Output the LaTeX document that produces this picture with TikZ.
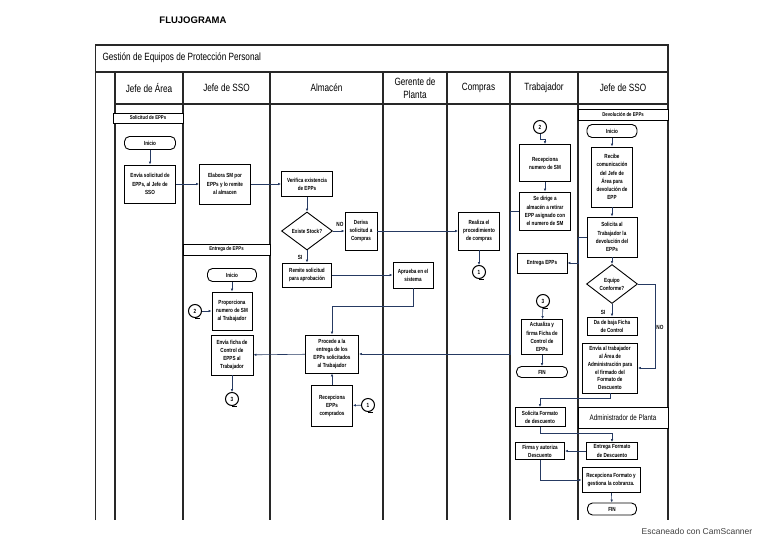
\documentclass[tikz,border=0pt]{standalone}
\usepackage{fontspec}
\setmainfont{Liberation Sans}
\newfontfamily\narrowfont[FakeStretch=0.78]{Liberation Sans}
\usetikzlibrary{shapes.geometric,arrows.meta}
\definecolor{flowColor}{RGB}{38,58,98}
\definecolor{laneColor}{RGB}{40,40,40}
\begin{document}
\begin{tikzpicture}[x=1pt,y=-1pt,
  box/.style={draw=black,line width=0.9pt,fill=white,align=center,inner sep=0.3pt,
    font=\narrowfont\bfseries\fontsize{5.9}{8.2}\selectfont},
  term/.style={box,rounded corners=5pt,minimum width=50pt,minimum height=13pt},
  decision/.style={box,diamond,aspect=1.3,inner sep=0pt},
  conn/.style={draw=black,line width=1pt,circle,fill=white,inner sep=0pt,minimum size=13pt,
    font=\narrowfont\bfseries\fontsize{6}{6}\selectfont},
  section/.style={draw=black,line width=0.9pt,fill=white,inner sep=0pt,
    font=\narrowfont\bfseries\fontsize{5.5}{6}\selectfont},
  lanehead/.style={align=center,font=\narrowfont\fontsize{10.5}{12.5}\selectfont},
  lane/.style={draw=laneColor,line width=1.3pt},
  flow/.style={draw=flowColor,line width=0.6pt,-{Latex[length=3pt,width=2.6pt]}},
  tail/.style={draw=black,line width=0.9pt},
  answer/.style={font=\narrowfont\bfseries\fontsize{6}{6}\selectfont}]
\path[use as bounding box,fill=white] (0,0) rectangle (768,543);

% titles
\node[font=\bfseries\fontsize{9.5}{11}\selectfont] (flujo) at (193,20) {FLUJOGRAMA};
\node[anchor=west,font=\narrowfont\fontsize{10.5}{12}\selectfont] (proceso) at (99,58) {Gestión de Equipos de Protección Personal};

% pool and lanes
\draw[laneColor,line width=0.8pt] (95,520) -- (95,45);
\draw[lane] (95,45) -- (668,45) -- (668,520);
\draw[lane] (95,72) -- (668,72);
\draw[lane] (115,104) -- (668,104);
\foreach \x in {115,183,270,383,447,510,578}
  \draw[lane] (\x,72) -- (\x,520);

\node[lanehead] (hArea) at (149,88) {Jefe de Área};
\node[lanehead] (hSSO) at (226.5,88) {Jefe de SSO};
\node[lanehead] (hAlmacen) at (326.5,88) {Almacén};
\node[lanehead] (hGerente) at (415,88) {Gerente de\\Planta};
\node[lanehead] (hCompras) at (478.5,88) {Compras};
\node[lanehead] (hTrab) at (544,88) {Trabajador};
\node[lanehead] (hSSOb) at (623,88) {Jefe de SSO};

% sections
\node[section,minimum width=70pt,minimum height=10pt] (secSolicitud) at (148,118) {Solicitud de EPPs};
\node[section,minimum width=87pt,minimum height=11pt] (secEntrega) at (226.5,249.5) {Entrega de EPPs};
\node[section,minimum width=90pt,minimum height=11pt] (secDevol) at (623,114.5) {Devolución de EPPs};
\node[section,minimum width=90pt,minimum height=21pt,font=\narrowfont\fontsize{8}{9}\selectfont] (secAdmin) at (623,417.5) {Administrador de Planta};

% solicitud de EPPs
\node[term,minimum width=51pt] (ini1) at (150,143) {Inicio};
\node[box,minimum width=51pt,minimum height=38pt] (envSol) at (150,184) {Envía solicitud de\\EPPs, al Jefe de\\SSO};
\node[box,minimum width=51pt,minimum height=40pt] (elabora) at (225,184) {Elabora SM por\\EPPs y lo remite\\al almacen};
\node[box,minimum width=51pt,minimum height=25pt] (verifica) at (307,184) {Verifica existencia\\de EPPs};
\node[decision,minimum width=51pt,minimum height=38pt] (stock) at (307,231) {Existe Stock?};
\node[box,minimum width=32pt,minimum height=38pt] (deriva) at (361,231) {Deriva\\solicitud a\\Compras};
\node[box,minimum width=49pt,minimum height=24pt] (remite) at (307,275) {Remite solicitud\\para aprobación};
\node[box,minimum width=40pt,minimum height=26pt] (aprueba) at (413,275) {Aprueba en el\\sistema};
\node[box,minimum width=41pt,minimum height=38pt] (realiza) at (479,231) {Realiza el\\procedimiento\\de compras};
\node[conn] (c1a) at (479,272) {1};
\node[answer] (lblNo1) at (340,224) {NO};
\node[answer] (lblSi1) at (300,257) {SI};

% entrega de EPPs
\node[term,minimum width=49pt] (ini2) at (232,275) {Inicio};
\node[box,minimum width=40pt,minimum height=38pt] (proporciona) at (232,311) {Proporciona\\numero de SM\\al Trabajador};
\node[conn] (c2a) at (195,311) {2};
\node[box,minimum width=42pt,minimum height=40pt] (envFicha) at (232,355) {Envía ficha de\\Control de\\EPPS al\\Trabajador};
\node[conn] (c3a) at (232,399) {3};
\node[box,minimum width=53pt,minimum height=38pt] (procede) at (332,354) {Procede a la\\entrega de los\\EPPs solicitados\\al Trabajador};
\node[box,minimum width=41pt,minimum height=41pt] (recepEPP) at (332,406) {Recepciona\\EPPs\\comprados};
\node[conn] (c1b) at (368,405) {1};

% trabajador
\node[conn] (c2b) at (540,127) {2};
\node[box,minimum width=51pt,minimum height=37pt] (recepSM) at (545,163) {Recepciona\\numero de SM};
\node[box,minimum width=51pt,minimum height=38pt] (seDirige) at (545,211) {Se dirige a\\almacén a retirar\\EPP asignado con\\el numero de SM};
\node[box,minimum width=50pt,minimum height=20pt] (entrega) at (542,263) {Entrega EPPs};
\node[conn] (c3b) at (543,301) {3};
\node[box,minimum width=41pt,minimum height=35pt] (actualiza) at (542,337) {Actualiza y\\firma Ficha de\\Control de\\EPPs};
\node[term,minimum width=51pt,minimum height=11pt] (fin1) at (542,372) {FIN};

% devolucion de EPPs
\node[term] (ini3) at (612,131) {Inicio};
\node[box,minimum width=41pt,minimum height=60pt] (recibe) at (612,177) {Recibe\\comunicación\\del Jefe de\\Área para\\devolución de\\EPP};
\node[box,minimum width=50pt,minimum height=40pt] (solicita) at (612,237) {Solicita al\\Trabajador la\\devolución del\\EPPs};
\node[decision,minimum width=51pt,minimum height=39pt] (conforme) at (612,284) {Equipo\\Conforme?};
\node[box,minimum width=50pt,minimum height=18pt] (baja) at (612,326) {Da de baja Ficha\\de Control};
\node[box,minimum width=55pt,minimum height=50pt,font=\narrowfont\bfseries\fontsize{5.9}{7.9}\selectfont] (envTrab) at (610,368) {Envía al trabajador\\al Área de\\Administración para\\el firmado del\\Formato de\\Descuento};
\node[answer] (lblSi2) at (603,312) {SI};
\node[answer] (lblNo2) at (660,327) {NO};

% administrador de planta
\node[box,minimum width=50pt,minimum height=19pt] (solForm) at (540,417) {Solicita Formato\\de descuento};
\node[box,minimum width=51pt,minimum height=17pt] (entForm) at (612,451) {Entrega Formato\\de Descuento};
\node[box,minimum width=49pt,minimum height=17pt] (firma) at (540,451) {Firma y autoriza\\Descuento};
\node[box,minimum width=58pt,minimum height=25pt] (recForm) at (611,480) {Recepciona Formato y\\gestiona la cobranza.};
\node[term,minimum width=49pt,minimum height=12pt] (fin2) at (612,509) {FIN};

\coordinate (bendA) at (510,354);
\coordinate (bendB) at (578,263);
\coordinate (bendC) at (655,368);

% flows
\draw[flow] (ini1) -- (envSol);
\draw[flow] (envSol) -- (elabora);
\draw[flow] (elabora) -- (verifica);
\draw[flow] (verifica) -- (stock);
\draw[flow] (stock) -- (deriva);
\draw[flow] (stock) -- (remite);
\draw[flow] (deriva) -- (realiza);
\draw[flow] (realiza) -- (c1a);
\draw[flow] (remite) -- (aprueba);
\draw[flow] (aprueba.south) -- ++(0,18) -| (procede.north);
\draw[flow] (c1b) -- (recepEPP);
\draw[flow] (recepEPP) -- (procede);
\draw[flow] (procede) -- (envFicha);
\draw[flow] (ini2) -- (proporciona);
\draw[flow] (c2a) -- (proporciona);
\draw[flow] (envFicha) -- (c3a);
\draw[flow] (c2b.south) -- ++(0,5) -| (recepSM.north);
\draw[flow] (recepSM) -- (seDirige);
\draw[flow] (seDirige.west) -| (bendA) -- (procede.east);
\draw[flow] (c3b) -- (actualiza);
\draw[flow] (actualiza) -- (fin1);
\draw[flow] (ini3) -- (recibe);
\draw[flow] (recibe) -- (solicita);
\draw[flow] (solicita) -- (conforme);
\draw[flow] (solicita.west) -| (bendB) -- (entrega.east);
\draw[flow] (conforme) -- (baja);
\draw[flow] (conforme.east) -| (bendC) -- (envTrab.east);
\draw[flow] (envTrab.south) -- ++(0,5) -| (solForm.north);
\draw[flow] (solForm.south) -- ++(0,6) -| (entForm.north);
\draw[flow] (entForm) -- (firma);
\draw[flow] (firma.south) |- (recForm.west);
\draw[flow] (recForm) -- (fin2);

% connector tails
\foreach \c in {c1a,c1b,c2a,c3a,c3b}
  \draw[tail] (\c.south) -- ++(5,0);

\node[text=black!75,font=\fontsize{8.5}{10}\selectfont] (scan) at (697,531) {Escaneado con CamScanner};
\end{tikzpicture}
\end{document}
